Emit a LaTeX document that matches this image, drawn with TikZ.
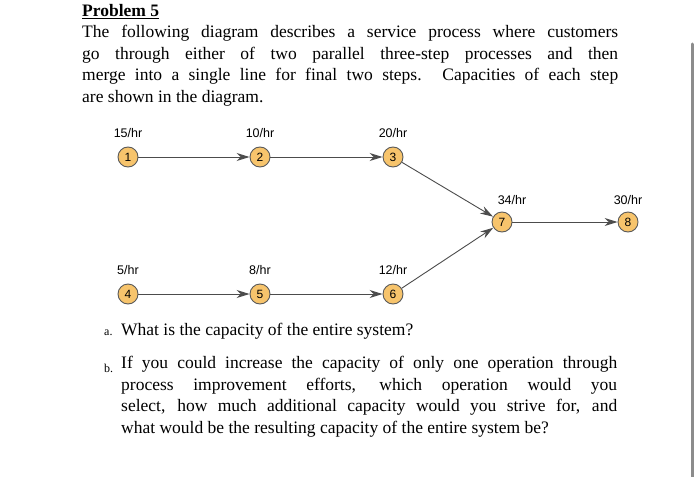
\documentclass[tikz,border=0pt]{standalone}
\usepackage{fontspec}
\setmainfont{Liberation Serif}
\newfontfamily\lab{Liberation Sans}
\usetikzlibrary{arrows.meta}
\definecolor{stfill}{HTML}{F7C46C}
\begin{document}
\begin{tikzpicture}[x=1pt,y=-1pt,
  st/.style={circle,draw=black!65,fill=stfill,line width=0.9pt,minimum size=20pt,inner sep=0pt,font=\lab\fontsize{12}{14}\selectfont},
  rate/.style={font=\lab\fontsize{12.5}{14}\selectfont},
  ar/.style={draw=black!70,line width=0.9pt,-{Stealth[length=13pt,width=8pt]}},
  body/.style={anchor=north west,inner sep=0pt,font=\fontsize{17.5}{21.5}\selectfont,align=justify}]
\useasboundingbox (0,0) rectangle (700,476);
\fill[white] (0,0) rectangle (700,476);
\draw[black!45,line width=3pt,line cap=round] (692,44) -- (692,478);
\node[body,text width=536pt] (txt) at (82,4) {\textbf{\underline{Problem 5}}\\
The following diagram describes a service process where customers\linebreak go through either of two parallel three-step processes and then\linebreak merge into a single line for final two steps. Capacities of each step\linebreak are shown in the diagram.};
\node[st] (n1) at (128,157) {1};
\node[st] (n2) at (260,157) {2};
\node[st] (n3) at (393,157) {3};
\node[st] (n7) at (502,222) {7};
\node[st] (n8) at (628,222) {8};
\node[st] (n4) at (128,294) {4};
\node[st] (n5) at (260,294) {5};
\node[st] (n6) at (393,294) {6};
\node[rate] (r1) at (128,133) {15/hr};
\node[rate] (r2) at (260,133) {10/hr};
\node[rate] (r3) at (393,133) {20/hr};
\node[rate] (r7) at (512,200) {34/hr};
\node[rate] (r8) at (628,200) {30/hr};
\node[rate] (r4) at (128,270) {5/hr};
\node[rate] (r5) at (260,270) {8/hr};
\node[rate] (r6) at (393,270) {12/hr};
\draw[ar] (n1) -- (n2);
\draw[ar] (n2) -- (n3);
\draw[ar] (n3) -- (n7);
\draw[ar] (n4) -- (n5);
\draw[ar] (n5) -- (n6);
\draw[ar] (n6) -- (n7);
\draw[ar] (n7) -- (n8);
\node[anchor=base west,inner sep=0pt,font=\fontsize{12}{12}\selectfont] (qa) at (104,335) {a.};
\node[anchor=base west,inner sep=0pt,font=\fontsize{17.5}{21.5}\selectfont] (ta) at (121,335) {What is the capacity of the entire system?};
\node[anchor=base west,inner sep=0pt,font=\fontsize{12}{12}\selectfont] (qb) at (104,372) {b.};
\node[body,text width=496pt] (tb) at (121,356) {If you could increase the capacity of only one operation through\linebreak process improvement efforts, which operation would you\linebreak select, how much additional capacity would you strive for, and\linebreak what would be the resulting capacity of the entire system be?};
\end{tikzpicture}
\end{document}
